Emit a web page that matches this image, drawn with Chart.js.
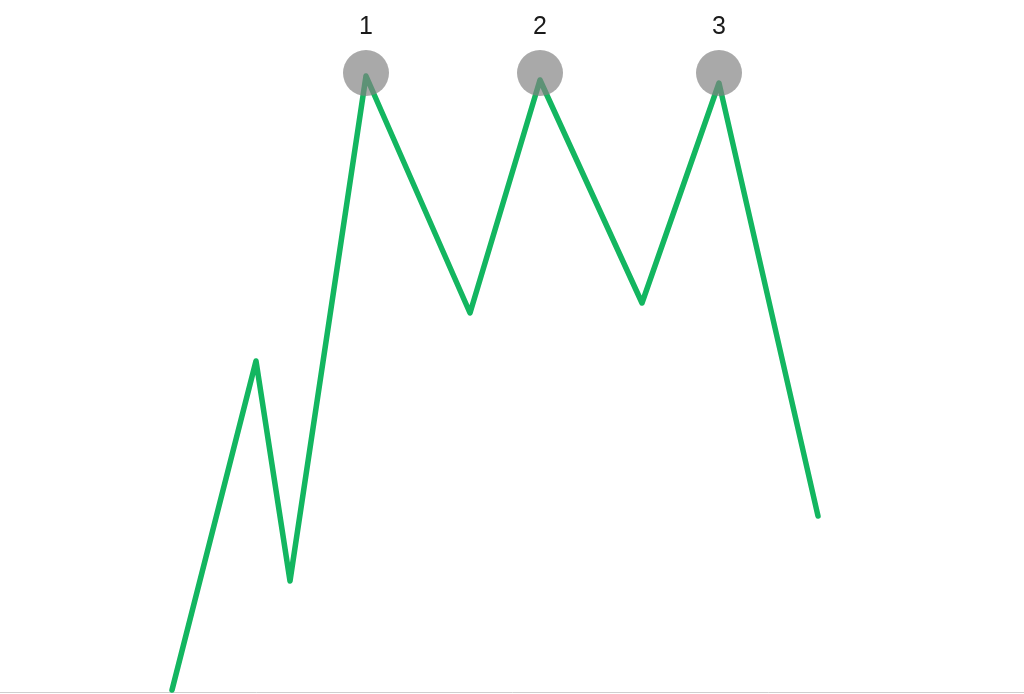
<!DOCTYPE html>
<html>
<head>
<meta charset="utf-8">
<script src="https://cdn.jsdelivr.net/npm/chart.js@4/dist/chart.umd.min.js"></script>
<style>
  html, body { margin: 0; padding: 0; background: #fff; }
  #wrap { width: 1024px; height: 694px; }
</style>
</head>
<body>
<div id="wrap"><canvas id="myChart" width="1024" height="694"></canvas></div>
<script>
// price path (time, price)
const times = [17.2, 25.6, 29.0, 36.6, 47.0, 54.0, 64.2, 71.9, 81.8];
const prices = [0.2, 33.1, 11.1, 61.6, 37.9, 61.2, 38.9, 60.9, 17.6];

// the three tops
const topLabels = ['1', '2', '3'];
const topTimes = [36.6, 54.0, 71.9];
const topPrices = [61.9, 61.9, 61.9];

const pathData = times.map((t, i) => ({ x: t, y: prices[i] }));
const topData = topTimes.map((t, i) => ({ x: t, y: topPrices[i] }));

const topNumbers = {
  id: 'topNumbers',
  afterDatasetsDraw(chart) {
    const { ctx } = chart;
    const meta = chart.getDatasetMeta(0);
    ctx.save();
    ctx.fillStyle = '#1a1a1a';
    ctx.font = '25px "Liberation Sans", Arial, sans-serif';
    ctx.textAlign = 'center';
    ctx.textBaseline = 'middle';
    meta.data.forEach((pt, i) => {
      ctx.fillText(topLabels[i], pt.x, pt.y - 46);
    });
    ctx.restore();
  },
};

const triplePeak = new Chart('myChart', {
  type: 'scatter',
  data: {
    datasets: [
      {
        data: topData,
        pointRadius: 23,
        pointHoverRadius: 23,
        pointBackgroundColor: 'rgba(128, 128, 128, 0.68)',
        pointBorderWidth: 0,
        showLine: false,
      },
      {
        data: pathData,
        showLine: true,
        borderColor: '#13b660',
        borderWidth: 5.5,
        borderCapStyle: 'round',
        borderJoinStyle: 'round',
        pointRadius: 0,
        clip: false,
      },
    ],
  },
  options: {
    responsive: false,
    animation: false,
    layout: { autoPadding: false, padding: { top: 0, right: 0, bottom: 2, left: 0 } },
    plugins: {
      legend: { display: false },
      tooltip: { enabled: false },
    },
    scales: {
      x: {
        type: 'linear',
        min: 0,
        max: 102.4,
        ticks: { display: false },
        grid: { display: false, drawTicks: false },
        border: { display: true, color: '#cfcfcf', width: 1 },
      },
      y: {
        min: 0,
        max: 69.2,
        display: false,
      },
    },
  },
  plugins: [topNumbers],
});
</script>
</body>
</html>
